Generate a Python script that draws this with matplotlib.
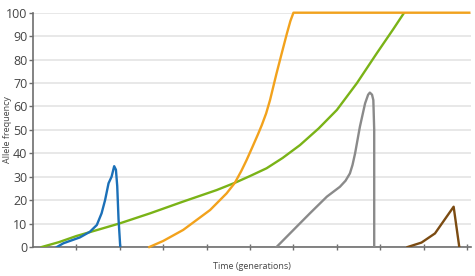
import matplotlib
matplotlib.use('Agg')
import matplotlib.pyplot as plt

plt.rcParams['font.family'] = ['Open Sans', 'DejaVu Sans']

# ---- data ----
blue_x = [0.55, 0.70, 1.08, 1.31, 1.47, 1.58, 1.66, 1.74, 1.81, 1.87, 1.91, 1.94, 1.97, 2.01]
blue_y = [0, 1.6, 4.1, 6.5, 9.4, 14.4, 20, 27.2, 30, 34.5, 33, 26, 12, 0]

green_x = [0.2, 0.6, 1.0, 1.54, 2.0, 2.70, 3.46, 4.23, 4.65, 5.0, 5.38, 5.75, 6.15, 6.58, 7.0, 7.46, 7.92, 8.30, 8.55]
green_y = [0, 2.1, 4.7, 7.6, 10.1, 14.4, 19.4, 24.3, 27.4, 30.3, 33.6, 38.0, 43.5, 50.6, 58.5, 69.9, 82.7, 93.0, 100]

orange_x = [2.68, 3.0, 3.46, 4.08, 4.46, 4.65, 4.80, 4.92, 5.05, 5.18, 5.27, 5.37, 5.46, 5.61, 5.73, 5.85, 5.93, 6.0, 10.05]
orange_y = [0, 2.6, 7.3, 15.8, 22.9, 27.4, 32.5, 37.1, 42.5, 48.0, 52.0, 57.0, 62.7, 74.1, 82.7, 91.2, 96.5, 100, 100]

gray_x = [5.61, 6.0, 6.38, 6.77, 7.07, 7.20, 7.30, 7.36, 7.42, 7.53, 7.65, 7.72, 7.76, 7.81, 7.84, 7.86, 7.86]
gray_y = [0, 7.3, 14.4, 21.5, 25.7, 28.3, 31.4, 35.0, 40, 51.3, 61.3, 65, 65.9, 65, 62.7, 50, 0]

brown_x = [8.63, 8.95, 9.26, 9.69, 9.82]
brown_y = [0, 1.9, 5.8, 17.2, 0]

yticks = [0, 10, 20, 30, 40, 50, 60, 70, 80, 90, 100]

# ---- plot ----
fig = plt.figure(figsize=(4.75, 2.76), dpi=100)
ax = fig.add_axes([0.0695, 0.105, 0.923, 0.849])

lw = 1.7
ax.plot(green_x, green_y, color='#7ab317', lw=lw, zorder=3)
ax.plot(orange_x, orange_y, color='#f2a21c', lw=lw, zorder=4, clip_on=False)
ax.plot(blue_x, blue_y, color='#1b70b8', lw=lw, zorder=3)
ax.plot(gray_x, gray_y, color='#8a8a8a', lw=lw, zorder=3)
ax.plot(brown_x, brown_y, color='#7b4b12', lw=lw, zorder=3)

ax.set_xlim(0, 10.1)
ax.set_ylim(0, 100)
ax.set_yticks(yticks)
ax.set_xticks(range(1, 11))
ax.set_xticklabels([])

ax.grid(True, axis='y', color='#e4e4e4', lw=1.2)
ax.set_axisbelow(True)
for s in ['top', 'right']:
    ax.spines[s].set_visible(False)
for s in ['left', 'bottom']:
    ax.spines[s].set_color('#6e6e6e')
    ax.spines[s].set_linewidth(1.2)

ax.tick_params(axis='y', direction='out', length=3, width=1, color='#6e6e6e',
               labelsize=9, labelcolor='#444444', pad=1)
ax.tick_params(axis='x', direction='inout', length=4, width=1, color='#6e6e6e')

# y 라벨은 잘리지 않도록 figure 좌표로 직접 배치
fig.text(8 / 475, 0.53, 'Allele frequency', rotation=90, fontsize=6.5,
         color='#444444', ha='center', va='center')
ax.set_xlabel('Time (generations)', fontsize=6.5, color='#444444', labelpad=5)

fig.savefig('out.png', dpi=100)
